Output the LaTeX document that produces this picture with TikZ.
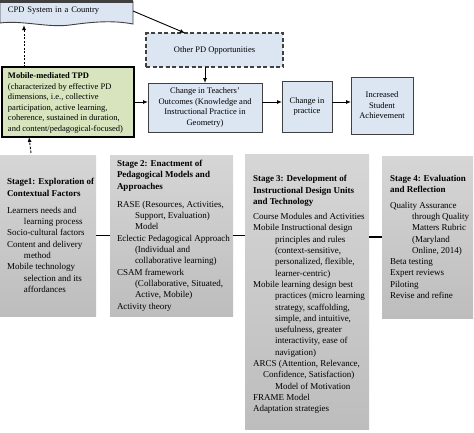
\documentclass[tikz,border=0pt]{standalone}
\usepackage{fontspec}
\setmainfont{Liberation Serif}
\usetikzlibrary{arrows.meta,calc}
\definecolor{boxblue}{HTML}{DCE6F2}
\definecolor{boxgreen}{HTML}{D7E4BD}
\definecolor{edgegray}{HTML}{404040}
\definecolor{stagetop}{HTML}{D6D6D6}
\definecolor{stagebot}{HTML}{BDBDBD}
\begin{document}
\begin{tikzpicture}[x=1pt,y=-1pt,
  every node/.style={inner sep=0pt, outer sep=0pt},
  bluebox/.style={draw=edgegray, line width=0.9pt, fill=boxblue, align=center, font=\fontsize{8.5}{10.5}\selectfont},
  stagebox/.style={top color=stagetop, bottom color=stagebot, draw=none},
  stagetext/.style={align=left, font=\fontsize{9}{11.3}\selectfont, anchor=west},
  arr/.style={-{Latex[length=5pt,width=4pt]}, line width=0.9pt},
  link/.style={line width=1.6pt}
]
\useasboundingbox (0,0) rectangle (474,432);

% CPD system shape
\fill[boxblue] (0,0) -- (133,0) -- (133,24) .. controls (112,20) and (92,22) .. (70,25) .. controls (48,28) and (22,20) .. (0,23) -- cycle;
\draw[edgegray, line width=0.9pt] (0,0) -- (0,23) .. controls (22,20) and (48,28) .. (70,25) .. controls (92,22) and (112,20) .. (133,24) -- (133,1);
\draw[edgegray, line width=3pt] (0,1) -- (133,1);
\node[minimum width=133pt, minimum height=22pt, anchor=north west, text width=117pt, align=left, inner xsep=8pt, font=\fontsize{8.5}{10.5}\selectfont] (cpd) at (0,0) {CPD System in a Country};

% top row boxes
\node[bluebox, dash pattern=on 4pt off 2.5pt, line width=1.5pt, minimum width=137pt, minimum height=34pt] (otherpd) at (214.5,50) {Other PD Opportunities};
\node[bluebox, minimum width=114pt, minimum height=49pt] (outcomes) at (205,107.5) {Change in Teachers’\\ Outcomes (Knowledge and\\ Instructional Practice in\\ Geometry)};
\node[bluebox, minimum width=50pt, minimum height=51pt] (practice) at (307,106.5) {Change in\\ practice};
\node[bluebox, minimum width=62pt, minimum height=57pt] (increase) at (382,105.5) {Increased\\ Student\\ Achievement};

\node[draw=black, line width=1.8pt, fill=boxgreen, minimum width=132pt, minimum height=70pt] (tpd) at (68,102) {};
\node[anchor=west, align=left, font=\fontsize{8.5}{10.6}\selectfont] (tpdtext) at ($(tpd.west)+(6,1)$) {\textbf{Mobile-mediated TPD}\\ (characterized by effective PD\\ dimensions, i.e., collective\\ participation, active learning,\\ coherence, sustained in duration,\\ and content/pedagogical-focused)};

% arrows
\draw[arr] (cpd.east) -- ($(otherpd.north west)+(39,0)$);
\draw[arr] (outcomes.north |- otherpd.south) -- (outcomes.north);
\draw[arr] (tpd.east) -- (outcomes.west |- tpd.east);
\draw[arr] (outcomes.east |- tpd.east) -- (practice.west |- tpd.east);
\draw[arr] (practice.east |- tpd.east) -- (increase.west |- tpd.east);
\draw[arr, dash pattern=on 2pt off 1.5pt] ($(tpd.north west)+(22,0)$) -- ($(cpd.south west)+(24,3)$);
\coordinate (ext) at (31,153);
\draw[arr, dash pattern=on 2.5pt off 1.5pt] (ext) -- ($(tpd.south west)+(27,0)$);

% stage boxes
\node[stagebox, minimum width=96pt, minimum height=161pt] (s1) at (48,235.5) {};
\node[stagebox, minimum width=123pt, minimum height=161pt] (s2) at (171.5,235.5) {};
\node[stagebox, minimum width=124pt, minimum height=275pt] (s3) at (307,291.5) {};
\node[stagebox, minimum width=91pt, minimum height=162pt] (s4) at (427.5,237) {};

\node[stagetext] (t1) at ($(s1.west)+(7,0)$) {\textbf{Stage1: Exploration of}\\ \textbf{Contextual Factors}\\[6pt]
Learners needs and\\ \hspace*{17pt}learning process\\ Socio-cultural factors\\ Content and delivery\\ \hspace*{17pt}method\\ Mobile technology\\ \hspace*{17pt}selection and its\\ \hspace*{17pt}affordances};

\node[stagetext] (t2) at ($(s2.west)+(7,0)$) {\textbf{Stage 2: Enactment of}\\ \textbf{Pedagogical Models and}\\ \textbf{Approaches}\\[7pt]
RASE (Resources, Activities,\\ \hspace*{18pt}Support, Evaluation)\\ \hspace*{18pt}Model\\ Eclectic Pedagogical Approach\\ \hspace*{18pt}(Individual and\\ \hspace*{18pt}collaborative learning)\\ CSAM framework\\ \hspace*{18pt}(Collaborative, Situated,\\ \hspace*{18pt}Active, Mobile)\\ Activity theory};

\node[stagetext] (t3) at ($(s3.west)+(8,3)$) {\textbf{Stage 3: Development of}\\ \textbf{Instructional Design Units}\\ \textbf{and Technology}\\[4pt]
Course Modules and Activities\\ Mobile Instructional design\\ \hspace*{22pt}principles and rules\\ \hspace*{22pt}(context-sensitive,\\ \hspace*{22pt}personalized, flexible,\\ \hspace*{22pt}learner-centric)\\ Mobile learning design best\\ \hspace*{22pt}practices (micro learning\\ \hspace*{22pt}strategy, scaffolding,\\ \hspace*{22pt}simple, and intuitive,\\ \hspace*{22pt}usefulness, greater\\ \hspace*{22pt}interactivity, ease of\\ \hspace*{22pt}navigation)\\ ARCS (Attention, Relevance,\\ \hspace*{10pt}Confidence, Satisfaction)\\ \hspace*{22pt}Model of Motivation\\ FRAME Model\\ Adaptation strategies};

\node[stagetext] (t4) at ($(s4.west)+(8,0)$) {\textbf{Stage 4: Evaluation}\\ \textbf{and Reflection}\\[4pt]
Quality Assurance\\ \hspace*{22pt}through Quality\\ \hspace*{22pt}Matters Rubric\\ \hspace*{22pt}(Maryland\\ \hspace*{22pt}Online, 2014)\\ Beta testing\\ Expert reviews\\ Piloting\\ Revise and refine};

% stage links
\draw[link] (s1.east) -- (s2.west);
\draw[link] (s2.east) -- (s3.west |- s2.east);
\draw[link] (s3.east |- s4.west) -- (s4.west);
\end{tikzpicture}
\end{document}
